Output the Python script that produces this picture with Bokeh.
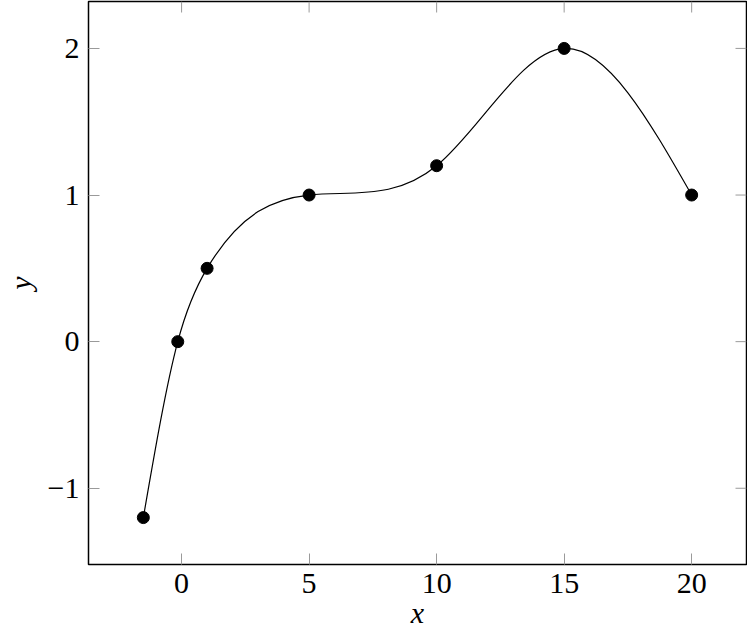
import numpy as np
from bokeh.plotting import figure
from bokeh.models import LinearAxis, FixedTicker, Range1d
from bokeh.embed import file_html
from bokeh.resources import INLINE

# data
xs = [-1.5, -0.15, 1.0, 5.0, 10.0, 15.0, 20.0]
ys = [-1.2, 0.0, 0.5, 1.0, 1.2, 2.0, 1.0]
x_ticks = [0, 5, 10, 15, 20]
y_ticks = [-1, 0, 1, 2]
y_tick_labels = {-1: "\u22121", 0: "0", 1: "1", 2: "2"}

FONT = "Liberation Serif"
FS = "30px"
TICK_COLOR = "#9a9a9a"

# natural cubic spline through the points, drawn as Bezier segments
px = np.array(xs); py = np.array(ys); n = len(px)
h = np.diff(px); d = np.diff(py) / h
A = np.zeros((n, n)); r = np.zeros(n)
A[0, 0] = 1; A[-1, -1] = 1
for i in range(1, n - 1):
    A[i, i - 1] = h[i - 1]; A[i, i] = 2 * (h[i - 1] + h[i]); A[i, i + 1] = h[i]
    r[i] = 6 * (d[i] - d[i - 1])
M = np.linalg.solve(A, r)
m = np.zeros(n)
for i in range(n - 1):
    m[i] = d[i] - h[i] * (2 * M[i] + M[i + 1]) / 6
m[-1] = d[-1] + h[-1] * (M[-2] + 2 * M[-1]) / 6
seg = dict(x0=px[:-1], y0=py[:-1], x1=px[1:], y1=py[1:],
           cx0=px[:-1] + h / 3, cy0=py[:-1] + m[:-1] * h / 3,
           cx1=px[1:] - h / 3, cy1=py[1:] - m[1:] * h / 3)

xr = max(xs) - min(xs); yr = max(ys) - min(ys)
x_lo, x_hi = min(xs) - 0.1 * xr, max(xs) + 0.1 * xr
y_lo, y_hi = min(ys) - 0.1 * yr, max(ys) + 0.1 * yr
p = figure(width=747, height=631, output_backend="svg", toolbar_location=None,
           x_range=Range1d(x_lo, x_hi), y_range=Range1d(y_lo, y_hi),
           x_axis_location=None, y_axis_location=None,
           min_border_left=0, min_border_right=1, min_border_top=1, min_border_bottom=0)
p.grid.visible = False
p.outline_line_color = "black"
p.outline_line_width = 1.5
p.background_fill_color = "white"
p.border_fill_color = "white"

def style(ax, ticks):
    ax.ticker = FixedTicker(ticks=ticks)
    ax.axis_line_color = None
    ax.major_tick_in = 11
    ax.major_tick_out = 0
    ax.minor_tick_line_color = None
    ax.major_tick_line_color = TICK_COLOR
    ax.major_tick_line_width = 1
    ax.major_label_text_font = FONT
    ax.major_label_text_font_size = FS
    ax.major_label_text_color = "black"
    ax.major_label_standoff = 9
    ax.axis_label_text_font = FONT
    ax.axis_label_text_font_size = FS
    ax.axis_label_text_font_style = "italic"
    ax.axis_label_text_color = "black"

bx = LinearAxis(axis_label="x"); style(bx, x_ticks); bx.axis_label_standoff = 0
ly = LinearAxis(axis_label="y"); style(ly, y_ticks); ly.axis_label_standoff = 8
ly.major_label_overrides = y_tick_labels
p.add_layout(bx, "below")
p.add_layout(ly, "left")

# mirrored inward ticks on the top and right edges
p.ray(x=x_ticks, y=[y_hi] * len(x_ticks), length=11, length_units="screen",
      angle=-np.pi / 2, line_color=TICK_COLOR, line_width=1)
p.ray(x=[x_hi] * len(y_ticks), y=y_ticks, length=11, length_units="screen",
      angle=np.pi, line_color=TICK_COLOR, line_width=1)

p.bezier(**seg, line_color="black", line_width=1.2)
p.scatter(xs, ys, size=12, color="black")

open("out.html", "w").write(file_html(p, INLINE))
